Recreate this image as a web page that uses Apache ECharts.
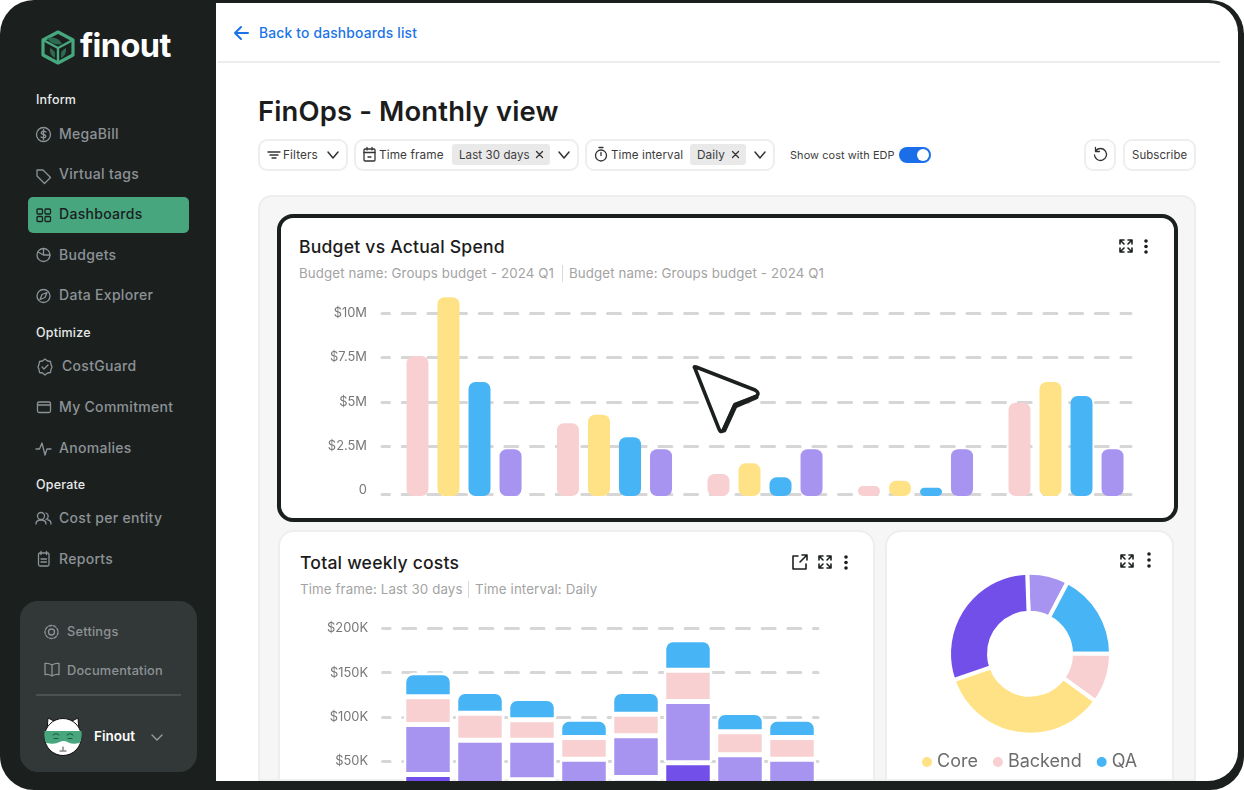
<!DOCTYPE html>
<html>
<head>
<meta charset="utf-8">
<title>FinOps - Monthly view</title>
<script src="https://cdn.jsdelivr.net/npm/echarts@6/dist/echarts.min.js"></script>
<style>
html,body{margin:0;padding:0;background:#fff;width:1244px;height:790px;overflow:hidden;font-family:Inter,"Noto Sans",sans-serif}
#frame{position:absolute;left:0;top:0;width:1244px;height:790px;background:#1b201f;border-radius:34px;overflow:hidden}
#panel{position:absolute;left:216px;top:3px;width:1022px;height:778px;background:#fff;border-radius:0 30px 30px 0;overflow:hidden}
.t{position:absolute;white-space:nowrap;line-height:1;transform:translateY(-50%)}
.nav{color:#8d9296;font-size:14px;font-weight:500;letter-spacing:.3px}
.head{color:#e8eaea;font-size:12.5px;font-weight:500;letter-spacing:.2px;transform:translateY(-44%)}
.box{position:absolute;box-sizing:border-box;background:#fff;border:2px solid #eeeeee}
.ctl{border-radius:9px;height:32px;top:139px}
.ctxt{color:#3c3c3c;font-size:11.8px;letter-spacing:.1px;transform:translateY(-44%)}
.chip{position:absolute;background:#e9e9e9;border-radius:3px;height:21px;top:144px}
.sub{color:#a3a3a3;font-size:13.3px;letter-spacing:.12px;transform:translateY(-44%)}
.ttl{color:#1c1c1c;font-size:17.6px;font-weight:500;letter-spacing:.2px;transform:translateY(-44%)}
svg.i{position:absolute;fill:none;stroke-linecap:round;stroke-linejoin:round;overflow:visible}
#chart{position:absolute;left:0;top:0;width:1244px;height:781px}
#cursor{position:absolute;left:0;top:0;width:1244px;height:790px;pointer-events:none}
</style>
</head>
<body>
<div id="frame">

  <!-- logo -->
  <svg class="i" style="left:0;top:0" width="200" height="80" stroke="#46a87e" stroke-width="3.2">
    <path d="M58 32 L73 40 L73 55 L58 63 L43 55 L43 40 Z"/>
    <path d="M45 41 L58 48 L71 41 M58 48 L58 62" stroke-width="2.400"/>
    <path d="M47 38 Q58 36 62 44 Q52 46 47 38 Z M50 48 Q56 50 55 58 Q49 55 50 48 Z M66 48 Q60 50 61 58 Q67 55 66 48 Z" fill="#2c6b50" stroke="none"/>
  </svg>
  <span class="t" style="left:80px;top:46px;color:#fff;font-size:32.500px;font-weight:700;letter-spacing:-.6px">finout</span>

  <span class="t head" style="left:36px;top:99px">Inform</span>
  <span class="t nav" style="left:59px;top:134px">MegaBill</span>
  <span class="t nav" style="left:59px;top:174px">Virtual tags</span>
  <div style="position:absolute;left:28px;top:197px;width:161px;height:36px;background:#47a67d;border-radius:5px"></div>
  <span class="t nav" style="left:59px;top:214px;color:#1b201f">Dashboards</span>
  <span class="t nav" style="left:59px;top:255px">Budgets</span>
  <span class="t nav" style="left:59px;top:295px">Data Explorer</span>
  <span class="t head" style="left:36px;top:332px">Optimize</span>
  <span class="t nav" style="left:62px;top:366px">CostGuard</span>
  <span class="t nav" style="left:59px;top:407px">My Commitment</span>
  <span class="t nav" style="left:59px;top:448px">Anomalies</span>
  <span class="t head" style="left:36px;top:484px">Operate</span>
  <span class="t nav" style="left:59px;top:518px">Cost per entity</span>
  <span class="t nav" style="left:59px;top:559px">Reports</span>

  <svg class="i" style="left:0;top:0" width="216" height="600" stroke="#8d9296" stroke-width="1.3">
    <circle cx="43.5" cy="134.5" r="7"/><path d="M46 132 q-2.500 -1.500 -4.500 0 q-1 2 2 2.500 q3 .8 2 2.800 q-2 1.200 -4.500 -.3 M43.500 129.500 v10"/>
    <path d="M37 170 h6 l7.500 7.500 l-6 6 l-7.500 -7.500 Z"/>
    <g stroke="#1b201f"><rect x="37" y="209" width="5.500" height="5" rx="1"/><rect x="45" y="209" width="5.500" height="5" rx="1"/><rect x="37" y="216.500" width="5.500" height="5" rx="1"/><rect x="45" y="216.500" width="5.500" height="5" rx="1"/></g>
    <circle cx="43.500" cy="255" r="6.500"/><path d="M43.500 248.500 v6.500 h6.500 M38 252 l5.500 3"/>
    <circle cx="43.500" cy="296" r="6.500"/><path d="M47 292.500 l-2 5 l-5 2 l2 -5 Z"/>
    <path d="M45 359 l2.500 2 l3 .5 l.5 3 l1 2.500 l-1 2.500 l-.5 3 l-3 .5 l-2.500 2 l-2.500 -2 l-3 -.5 l-.5 -3 l-1 -2.500 l1 -2.500 l.5 -3 l3 -.5 Z M42 367 l2 2 l4 -4"/>
    <rect x="37.500" y="402" width="13" height="10.500" rx="1.500"/><path d="M37.500 405 h13"/>
    <path d="M36 449 h3.500 l2.500 -6 l3 12 l2 -6 h4"/>
    <circle cx="41" cy="516" r="3.500"/><path d="M36 524 q0 -4 5 -4 q5 0 5 4 M46 513 a3.500 3.500 0 0 1 0 6.500 M51 524 q0 -3.500 -3 -4"/>
    <rect x="38.500" y="553" width="10.500" height="13" rx="1.500"/><path d="M41 551.500 v3 M46.500 551.500 v3 M41 559 h5.500 M41 562 h5.500"/>
  </svg>

  <div style="position:absolute;left:20px;top:601px;width:177px;height:171px;background:#323837;border-radius:18px"></div>
  <span class="t nav" style="left:67px;top:632px;font-size:12.8px;letter-spacing:.2px">Settings</span>
  <span class="t nav" style="left:67px;top:671px;font-size:12.8px;letter-spacing:.2px">Documentation</span>
  <div style="position:absolute;left:36px;top:694px;width:145px;height:2px;background:#4b5150"></div>
  <span class="t" style="left:94px;top:737px;color:#fff;font-size:13.5px;font-weight:600">Finout</span>
  <svg class="i" style="left:0;top:600px" width="216" height="180" stroke="#8d9296" stroke-width="1.3">
    <circle cx="51.500" cy="32" r="3"/><circle cx="51.500" cy="32" r="6.500" stroke-dasharray="3 1.500"/>
    <path d="M52 65 q-3 -2 -7 -1.500 v11 q4 -.5 7 1.500 q3 -2 7 -1.500 v-11 q-4 -.5 -7 1.500 Z M52 65 v11"/>
    <path d="M152 135 l5 5 l5 -5" stroke="#9aa0a0"/>
    <path d="M47 131 L48 118 L58 123 Z M79 131 L78 118 L68 123 Z" fill="#fff" stroke="#111" stroke-width="1"/>
    <circle cx="63" cy="137" r="18.500" fill="#fff" stroke="#111" stroke-width="1"/>
    <path d="M44.500 131 h37 q1 8 -2 12 q-8 2 -12 -1 q-4 -2 -8 0 q-5 3 -13 1 q-3 -4 -2 -12 Z" fill="#47a67d" stroke="none"/>
    <path d="M53 135 l3 -1.500 l3 1.500 M67 135 l3 -1.500 l3 1.500 M54 138.500 h4 M68 138.500 h4" stroke="#1b5a40" stroke-width="1"/>
    <path d="M63 147 v3 M60 151 h6" stroke="#444" stroke-width="1"/>
  </svg>

  <div id="panel">
    <svg class="i" style="left:0;top:0" width="60" height="60" stroke="#1a73e8" stroke-width="2"><path d="M32 30 H19 M25 24 L19 30 L25 36"/></svg>
    <span class="t" style="left:43px;top:30px;color:#1a73e8;font-size:13.8px;font-weight:500;letter-spacing:.2px;transform:translateY(-44%)">Back to dashboards list</span>
    <div style="position:absolute;left:2px;top:58px;width:1002px;height:2px;background:#ececec"></div>
    <span class="t" style="left:42px;top:109px;color:#1c1c1c;font-size:27.4px;font-weight:600;letter-spacing:.15px;transform:translateY(-50%)">FinOps - Monthly view</span>
  </div>

  <!-- filter row -->
  <div class="box ctl" style="left:258px;width:90px"></div>
  <span class="t ctxt" style="left:283px;top:155px">Filters</span>
  <div class="box ctl" style="left:354px;width:225px"></div>
  <span class="t ctxt" style="left:379px;top:155px">Time frame</span>
  <div class="chip" style="left:452px;width:98px"></div>
  <span class="t ctxt" style="left:459px;top:155px;font-size:11.5px">Last 30 days</span>
  <div class="box ctl" style="left:585px;width:190px"></div>
  <span class="t ctxt" style="left:611px;top:155px;font-size:11.6px">Time interval</span>
  <div class="chip" style="left:690px;width:56px"></div>
  <span class="t ctxt" style="left:697px;top:155px">Daily</span>
  <span class="t ctxt" style="left:790px;top:155px;font-size:10.9px">Show cost with EDP</span>
  <div style="position:absolute;left:899px;top:147px;width:32px;height:16px;background:#1a6fe8;border-radius:8px"></div>
  <div style="position:absolute;left:917px;top:149px;width:12px;height:12px;background:#fff;border-radius:6px"></div>
  <div class="box ctl" style="left:1084px;width:32px"></div>
  <div class="box ctl" style="left:1123px;width:73px"></div>
  <span class="t ctxt" style="left:1132px;top:155px;font-size:11.4px">Subscribe</span>
  <svg class="i" style="left:0;top:0" width="1244" height="200" stroke="#333" stroke-width="1.300">
    <path d="M268 152 h12 M270 155 h8 M272 158 h4"/>
    <path d="M328 152 l5 6 l5 -6" stroke-width="1.500"/>
    <rect x="364" y="149" width="11" height="12" rx="1"/><path d="M364 152.500 h11 M367 147.500 v2.500 M372 147.500 v2.500 M368 157 h3"/>
    <path d="M559 152 l5 6 l5 -6" stroke-width="1.500"/>
    <path d="M536.500 151.500 l6 6 M542.500 151.500 l-6 6"/>
    <circle cx="601" cy="155.500" r="5.500"/><path d="M601 155.500 v-3 M599 147.500 h4"/>
    <path d="M755 152 l5 6 l5 -6" stroke-width="1.500"/>
    <path d="M732.500 151.500 l6 6 M738.500 151.500 l-6 6"/>
    <path d="M1096 150.500 a6 6 0 1 1 -1.500 4.500 M1095.500 147.500 v4 h4"/>
  </svg>

  <!-- cards -->
  <div class="box" style="left:258px;top:195px;width:938px;height:586px;background:#f6f6f6;border-radius:14px 14px 0 0"></div>
  <div class="box" style="left:277px;top:214px;width:901px;height:308px;border:4px solid #1b201f;border-radius:16px"></div>
  <div class="box" style="left:278px;top:530px;width:597px;height:251px;border-radius:16px 16px 0 0"></div>
  <div class="box" style="left:885px;top:530px;width:289px;height:251px;border-radius:16px 16px 0 0"></div>

  <span class="t ttl" style="left:299px;top:246px">Budget vs Actual Spend</span>
  <span class="t sub" style="left:299px;top:273px">Budget name: Groups budget - 2024 Q1</span>
  <div style="position:absolute;left:562px;top:265px;width:1px;height:17px;background:#d9d9d9"></div>
  <span class="t sub" style="left:569px;top:273px">Budget name: Groups budget - 2024 Q1</span>
  <span class="t ttl" style="left:300px;top:562px">Total weekly costs</span>
  <span class="t sub" style="left:300px;top:589px">Time frame: Last 30 days</span>
  <div style="position:absolute;left:468px;top:581px;width:1px;height:17px;background:#d9d9d9"></div>
  <span class="t sub" style="left:475px;top:589px">Time interval: Daily</span>

  <!-- card icons -->
  <svg class="i" style="left:0;top:0" width="1244" height="790" stroke="#1b201f" stroke-width="1.600">
    <path d="M1120 244 v-4 h4 M1128 240 h4 v4 M1132 248 v4 h-4 M1124 252 h-4 v-4 M1120 240 l4 4 M1132 240 l-4 4 M1132 252 l-4 -4 M1120 252 l4 -4"/>
    <path d="M819 560 v-4 h4 M827 556 h4 v4 M831 564 v4 h-4 M823 568 h-4 v-4 M819 556 l4 4 M831 556 l-4 4 M831 568 l-4 -4 M819 568 l4 -4"/>
    <path d="M1121 559 v-4 h4 M1129 555 h4 v4 M1133 563 v4 h-4 M1125 567 h-4 v-4 M1121 555 l4 4 M1133 555 l-4 4 M1133 567 l-4 -4 M1121 567 l4 -4"/>
    <path d="M798 556 h-5 v13 h13 v-5 M800 562 l7 -7 M802 555 h5 v5"/>
    <g fill="#1b201f" stroke="none">
      <circle cx="1146" cy="241" r="1.800"/><circle cx="1146" cy="246.500" r="1.800"/><circle cx="1146" cy="252" r="1.800"/>
      <circle cx="846" cy="557" r="1.800"/><circle cx="846" cy="562.500" r="1.800"/><circle cx="846" cy="568" r="1.800"/>
      <circle cx="1149" cy="554" r="1.800"/><circle cx="1149" cy="560" r="1.800"/><circle cx="1149" cy="566" r="1.800"/>
    </g>
  </svg>

  <div id="chart"></div>

  <svg id="cursor">
    <path d="M695 368.500 Q693 366 696 367 L755 390 Q761 394 755 397 L735 404.500 L724 429 Q721 434 719 429 Z" fill="#fff" stroke="#1b201f" stroke-width="3.500" stroke-linejoin="round"/>
    <path d="M756 397 L735 406 L724 430" fill="none" stroke="#1b201f" stroke-width="5" stroke-linecap="round"/>
  </svg>
</div>

<script>
// Budget vs Actual Spend, values in $M
var budgetTicks = ['0', '$2.5M', '$5M', '$7.5M', '$10M']
var budgetGroups = ['Group 1', 'Group 2', 'Group 3', 'Group 4', 'Group 5']
var budgetBackend = [7.89, 4.10, 1.24, 0.56, 5.25]
var budgetCore = [11.20, 4.58, 1.84, 0.86, 6.42]
var budgetQa = [6.42, 3.31, 1.05, 0.47, 5.63]
var budgetOther = [2.63, 2.63, 2.63, 2.63, 2.63]

// Total weekly costs, values in $K, stacked from the bottom
var weeklyTicks = ['0', '$50K', '$100K', '$150K', '$200K']
var weeks = ['W1', 'W2', 'W3', 'W4', 'W5', 'W6', 'W7', 'W8']
var weeklyBase = [35.1, 12, 29.1, 12, 31.7, 48.3, 12, 12]
var weeklyOther = [56.4, 61.6, 44.5, 40.4, 47, 69.1, 45.3, 40.4]
var weeklyBackend = [31.4, 30.6, 23.2, 24.4, 24.4, 35.4, 26.1, 24.4]
var weeklyQa = [26.9, 24.5, 24, 20.7, 25.6, 34.2, 21.6, 20.7]

// Donut shares in percent, clockwise from the top
var shareNames = ['Other', 'QA', 'Backend', 'Core', 'Base']
var shareValues = [8.25, 17.3, 10, 34.7, 29.75]
var legendNames = ['Core', 'Backend', 'QA']

var PINK = '#f9d0d2', YELLOW = '#ffe285', BLUE = '#47b5f5', PURPLE = '#a793f0', DARK = '#724fe8', PALE = '#ecE9fc'
var AXIS_TEXT = {fontFamily: 'Inter', fontSize: 12.9, color: '#777'}
var dashed = {color: '#d6d6d6', width: 3, type: [13, 12.67], dashOffset: 5.5, cap: 'round'}

function guideAxis(grid, ticks, max, interval, margin, pad) {
  return {
    gridIndex: grid, type: 'value', min: 0, max: max, interval: interval,
    axisLine: {show: false}, axisTick: {show: false},
    axisLabel: Object.assign({margin: margin, padding: [0, 0, pad, 0], formatter: function (v, i) { return ticks[i] }}, AXIS_TEXT),
    splitLine: {show: true, showMinLine: false, lineStyle: dashed}
  }
}

function stackPart(name, data, color, radius) {
  return {
    name: name, type: 'bar', stack: 'week', xAxisIndex: 3, yAxisIndex: 3, data: data, barWidth: 48.5,
    itemStyle: {color: color, borderColor: '#fff', borderWidth: 2.5, borderRadius: radius}
  }
}

function groupPart(name, data, color) {
  return {
    name: name, type: 'bar', xAxisIndex: 1, yAxisIndex: 1, data: data, barWidth: 22, barGap: '41%',
    itemStyle: {color: color, borderRadius: 7}
  }
}

var baseData = weeklyBase.map(function (v, i) {
  // week 5 starts with a much paler block than the others
  return i === 4 ? {value: v, itemStyle: {color: PALE}} : v
})

var chart = echarts.init(document.getElementById('chart'), null, {renderer: 'canvas'})
chart.setOption({
  animation: false,
  textStyle: {fontFamily: 'Inter'},
  // 0,2 carry the dashed guides and labels, 1,3 the bars, which sit on a slightly shifted band
  grid: [
    {left: 382, top: 313, width: 749, height: 177.5, outerBoundsMode: 'none'},
    {left: 388.75, top: 296.3, width: 752.5, height: 199.7, outerBoundsMode: 'none'},
    {left: 382.6, top: 628.3, width: 435.4, height: 177.3, outerBoundsMode: 'none'},
    {left: 402, top: 628.3, width: 416, height: 177.3, outerBoundsMode: 'none'}
  ],
  xAxis: [
    {gridIndex: 0, type: 'value', min: 0, max: 1, offset: 3.5, axisTick: {show: false}, axisLabel: {show: false}, splitLine: {show: false},
      axisLine: {show: true, onZero: false, lineStyle: dashed}},
    {gridIndex: 1, type: 'category', data: budgetGroups, show: false},
    {gridIndex: 2, type: 'value', min: 0, max: 1, show: false},
    {gridIndex: 3, type: 'category', data: weeks, show: false}
  ],
  yAxis: [
    guideAxis(0, budgetTicks, 10, 2.5, 15, 4),
    {gridIndex: 1, type: 'value', min: 0, max: 11.25, show: false},
    guideAxis(2, weeklyTicks, 200, 50, 14.5, 2),
    {gridIndex: 3, type: 'value', min: 0, max: 200, show: false}
  ],
  legend: {
    data: legendNames, left: 922, top: 753, icon: 'circle', itemWidth: 10, itemHeight: 10, itemGap: 15, padding: 0,
    selectedMode: false, textStyle: {fontFamily: 'Inter', fontSize: 18, color: '#6d6d6d'}
  },
  series: [
    groupPart('Backend', budgetBackend, PINK),
    groupPart('Core', budgetCore, YELLOW),
    groupPart('QA', budgetQa, BLUE),
    groupPart('Other', budgetOther, PURPLE),
    stackPart('Base', baseData, DARK, 1),
    stackPart('Other', weeklyOther, PURPLE, 1),
    stackPart('Backend', weeklyBackend, PINK, 1),
    stackPart('QA', weeklyQa, BLUE, [8, 8, 1, 1]),
    {
      type: 'pie', center: [1030, 653.7], radius: [41, 81], startAngle: 92, clockwise: true, label: {show: false}, labelLine: {show: false},
      itemStyle: {borderColor: '#fff', borderWidth: 4},
      data: shareNames.map(function (n, i) {
        return {name: n, value: shareValues[i], itemStyle: {color: [PURPLE, BLUE, PINK, YELLOW, DARK][i]}}
      })
    }
  ]
})
</script>
</body>
</html>
